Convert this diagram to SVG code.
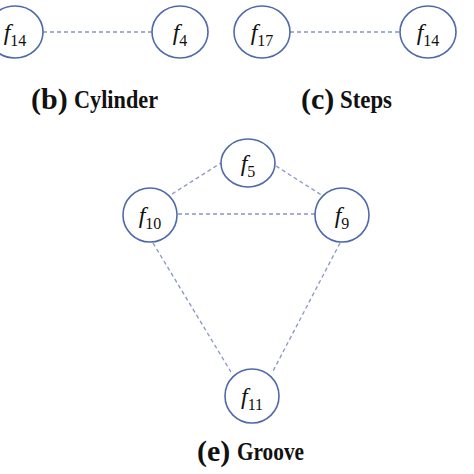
<svg xmlns="http://www.w3.org/2000/svg" width="474" height="474" viewBox="0 0 474 474">
<rect width="474" height="474" fill="#fff"/>
<g id="connectors" stroke="#8797c4" stroke-width="1.3" stroke-dasharray="4 3" fill="none">
<line x1="43" y1="32" x2="152" y2="32"/>
<line x1="290" y1="32" x2="400" y2="32"/>
<line x1="172" y1="194" x2="221" y2="163"/>
<line x1="276" y1="166" x2="323" y2="196"/>
<line x1="178" y1="214" x2="315" y2="214"/>
<line x1="153" y1="243" x2="231" y2="372"/>
<line x1="340" y1="243" x2="272" y2="373"/>
</g>
<g id="n_f14a"><ellipse cx="15" cy="32" rx="28" ry="26" fill="#fff" stroke="#5069a8" stroke-width="1.6"/><text x="15" y="40" font-family="'Liberation Serif', serif" font-size="24" fill="#111" text-anchor="middle"><tspan font-style="italic">f</tspan><tspan font-size="16" dy="6">14</tspan></text></g>
<g id="n_f4"><ellipse cx="180" cy="32" rx="28" ry="26" fill="#fff" stroke="#5069a8" stroke-width="1.6"/><text x="180" y="40" font-family="'Liberation Serif', serif" font-size="24" fill="#111" text-anchor="middle"><tspan font-style="italic">f</tspan><tspan font-size="16" dy="6">4</tspan></text></g>
<g id="n_f17"><ellipse cx="262" cy="32" rx="28" ry="26" fill="#fff" stroke="#5069a8" stroke-width="1.6"/><text x="262" y="40" font-family="'Liberation Serif', serif" font-size="24" fill="#111" text-anchor="middle"><tspan font-style="italic">f</tspan><tspan font-size="16" dy="6">17</tspan></text></g>
<g id="n_f14b"><ellipse cx="428" cy="32" rx="28" ry="26" fill="#fff" stroke="#5069a8" stroke-width="1.6"/><text x="428" y="40" font-family="'Liberation Serif', serif" font-size="24" fill="#111" text-anchor="middle"><tspan font-style="italic">f</tspan><tspan font-size="16" dy="6">14</tspan></text></g>
<g id="n_f5"><ellipse cx="248" cy="163" rx="27" ry="24" fill="#fff" stroke="#5069a8" stroke-width="1.6"/><text x="248" y="171" font-family="'Liberation Serif', serif" font-size="24" fill="#111" text-anchor="middle"><tspan font-style="italic">f</tspan><tspan font-size="16" dy="6">5</tspan></text></g>
<g id="n_f10"><ellipse cx="150" cy="215" rx="27" ry="27" fill="#fff" stroke="#5069a8" stroke-width="1.6"/><text x="150" y="223" font-family="'Liberation Serif', serif" font-size="24" fill="#111" text-anchor="middle"><tspan font-style="italic">f</tspan><tspan font-size="16" dy="6">10</tspan></text></g>
<g id="n_f9"><ellipse cx="342" cy="215" rx="27" ry="27" fill="#fff" stroke="#5069a8" stroke-width="1.6"/><text x="342" y="223" font-family="'Liberation Serif', serif" font-size="24" fill="#111" text-anchor="middle"><tspan font-style="italic">f</tspan><tspan font-size="16" dy="6">9</tspan></text></g>
<g id="n_f11"><ellipse cx="252" cy="396" rx="27" ry="27" fill="#fff" stroke="#5069a8" stroke-width="1.6"/><text x="252" y="404" font-family="'Liberation Serif', serif" font-size="24" fill="#111" text-anchor="middle"><tspan font-style="italic">f</tspan><tspan font-size="16" dy="6">11</tspan></text></g>
<g id="captions">
<text x="31" y="109" font-family="'Liberation Serif', serif" font-weight="bold" font-size="30" fill="#111">(b)</text>
<text x="74" y="108" font-family="'Liberation Serif', serif" font-weight="bold" font-size="25" fill="#111" textLength="84" lengthAdjust="spacingAndGlyphs">Cylinder</text>
<text x="301" y="109" font-family="'Liberation Serif', serif" font-weight="bold" font-size="30" fill="#111">(c)</text>
<text x="340" y="108" font-family="'Liberation Serif', serif" font-weight="bold" font-size="25" fill="#111" textLength="52" lengthAdjust="spacingAndGlyphs">Steps</text>
<text x="197" y="461" font-family="'Liberation Serif', serif" font-weight="bold" font-size="30" fill="#111">(e)</text>
<text x="237" y="460" font-family="'Liberation Serif', serif" font-weight="bold" font-size="25" fill="#111" textLength="67" lengthAdjust="spacingAndGlyphs">Groove</text>
</g>
</svg>
